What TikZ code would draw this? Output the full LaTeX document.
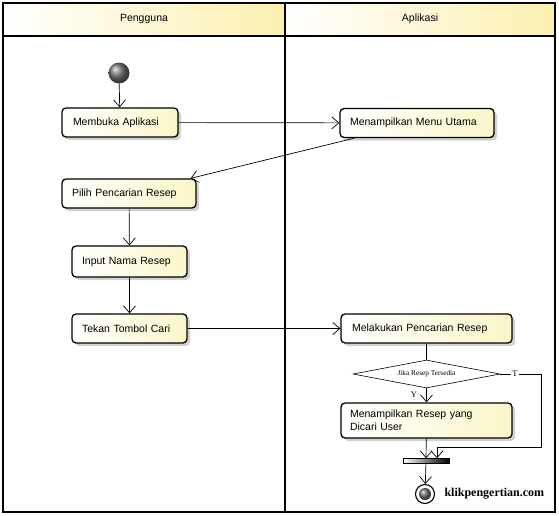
\documentclass[tikz,border=0pt]{standalone}
\usepackage{fontspec}
\setmainfont{Liberation Sans}
\newfontfamily\serifx{Liberation Serif}
\usetikzlibrary{shapes.geometric,arrows.meta,shadows}
\definecolor{boxyel}{RGB}{250,246,200}
\definecolor{hdryel}{RGB}{252,240,175}
\begin{document}
\begin{tikzpicture}[x=1pt,y=-1pt,
  act/.style={draw=black, line width=1.3pt, rounded corners=4pt,
    left color=white, right color=boxyel,
    drop shadow={shadow xshift=3pt,shadow yshift=-3pt,fill=black!30,opacity=0.6},
    font=\fontsize{10.5}{13}\selectfont, align=left, inner xsep=10pt, inner ysep=0pt,
    minimum height=29pt, text width=#1},
  arr/.style={line width=0.7pt, -{Straight Barb[length=7pt,width=12pt]}},
  plain/.style={line width=0.7pt},
  hdr/.style={font=\fontsize{10.5}{13}\selectfont},
  lbl/.style={font=\serifx\fontsize{8.5}{9}\selectfont, inner sep=1pt}]
\useasboundingbox (0,0) rectangle (559,515);
% lanes
\shade[left color=white, right color=hdryel] (3,3) rectangle (285,36);
\shade[left color=white, right color=hdryel] (285,3) rectangle (555,36);
\draw[line width=1.6pt] (3,3) rectangle (555,512);
\draw[line width=1.2pt] (3,36) -- (555,36);
\draw[line width=1.6pt] (285,3) -- (285,512);
\node[hdr] (h1) at (144,19) {Pengguna};
\node[hdr] (h2) at (420,19) {Aplikasi};
% nodes
\node[circle, inner sep=0pt, minimum size=21pt, ball color=black!55] (start) at (119,73) {};
\node[act=94pt, inner xsep=11pt] (memb) at (120,122.5) {Membuka Aplikasi};
\node[act=134pt] (menu) at (417,123) {Menampilkan Menu Utama};
\node[act=114pt] (pilih) at (129,193.5) {Pilih Pencarian Resep};
\node[act=95pt, minimum height=31pt] (input) at (129.5,261.5) {Input Nama Resep};
\node[act=95pt] (tekan) at (129.5,328.5) {Tekan Tombol Cari};
\node[act=149pt, inner xsep=11pt] (melak) at (426.5,328.5) {Melakukan Pencarian Resep};
\node[diamond, draw, line width=0.6pt, fill=white, minimum width=147pt, minimum height=28pt,
      inner sep=0pt, aspect=5.25, font=\serifx\fontsize{7.3}{8}\selectfont] (dec) at (426.5,374) {Jika Resep Tersedia};
\node[act=153pt, inner xsep=9pt, minimum height=35pt] (resep) at (426.5,420.5)
   {Menampilkan Resep yang\\Dicari User};
\node[draw, line width=0.5pt, inner sep=0pt, minimum width=46pt, minimum height=5pt,
      left color=white, right color=black] (bar) at (426,461) {};
\node[circle, draw, line width=1.1pt, fill=white, inner sep=0pt, minimum size=19pt] (end) at (425,494) {};
\shade[ball color=black!55] (end.center) circle (6);
\node[anchor=west, font=\serifx\bfseries\fontsize{12}{14}\selectfont] (wm) at (441,494) {klikpengertian.com};
% connectors
\draw[arr] (start) -- (memb);
\draw[arr] (memb) -- (menu);
\draw[arr] ([xshift=15pt]menu.south west) -- ([xshift=-6pt]pilih.north east);
\draw[arr] (pilih) -- (input);
\draw[arr] (input) -- (tekan);
\draw[arr] (tekan) -- (melak);
\draw[plain] (melak) -- (dec);
\draw[arr] (dec) -- (resep);
\node[lbl] (ylab) at (414,395) {Y};
\coordinate (tr) at (541,374);
\coordinate (br) at (541,447);
\draw[arr] (dec.east) -- (tr) -- (br) -| ([xshift=11pt]bar.north);
\node[lbl, fill=white] (tlab) at (515,374) {T};
\draw[arr] (resep) -- (bar);
\draw[arr] (bar) -- (end);
\end{tikzpicture}
\end{document}
